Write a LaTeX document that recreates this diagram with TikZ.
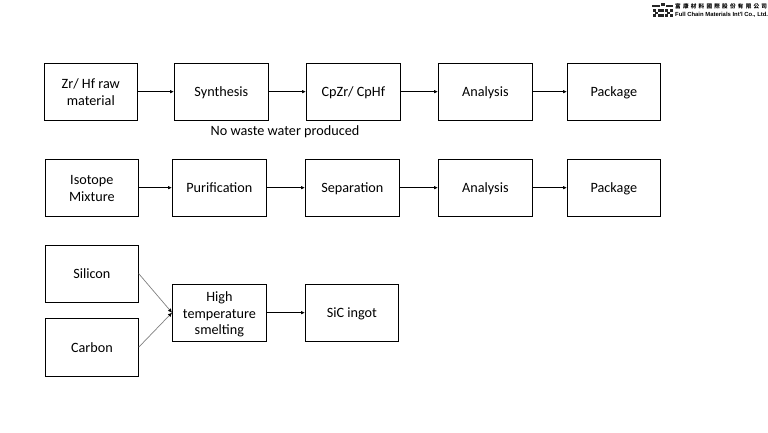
\documentclass[tikz,border=0pt]{standalone}
\usepackage{fontspec}
\usetikzlibrary{arrows.meta}
\setmainfont{Carlito}
\newfontfamily\cjk{Noto Sans CJK TC}[LetterSpace=40]
\newfontfamily\hv{Liberation Sans}
\newcommand{\topstrut}{\rule{0pt}{14.5pt}}
\begin{document}
\begin{tikzpicture}[x=1pt,y=-1pt,
  box/.style={draw=black,line width=0.75pt,inner sep=0pt,anchor=north west,align=center,font=\fontsize{14.2}{16.8}\selectfont,
    execute at begin node={\rule{0pt}{13.6pt}},execute at end node={\rule[-3.6pt]{0pt}{3.6pt}}},
  flow/.style={draw=black,line width=0.75pt,-{Latex[length=4pt,width=3.6pt]}},
  grayflow/.style={draw=black!50,line width=0.7pt,-{Latex[length=4pt,width=4pt,color=black]}},
  sq/.style={fill=black!85,draw=none}]
\useasboundingbox (0,0) rectangle (768,433);
\newcommand{\bx}[6]{\node[box,minimum width=#4 pt,minimum height=#5 pt] (#1) at (#2,#3) {#6};}
\bx{a1}{43.6}{63}{93.6}{56.6}{\topstrut Zr/ Hf raw\\material}
\bx{a2}{174}{63}{94}{56.6}{Synthesis}
\bx{a3}{306}{63}{94}{56.6}{CpZr/ CpHf}
\bx{a4}{438}{63}{94}{56.6}{Analysis}
\bx{a5}{567}{63}{93}{56.6}{Package}
\bx{b1}{45}{159}{93}{56.6}{\topstrut Isotope\\Mixture}
\bx{b2}{172}{159}{94}{56.6}{Purification}
\bx{b3}{305}{159}{94}{56.6}{Separation}
\bx{b4}{438}{159}{94}{56.6}{Analysis}
\bx{b5}{567}{159}{93}{56.6}{Package}
\bx{c1}{45}{245}{93}{56.6}{Silicon}
\bx{c2}{45}{318}{93}{57.6}{Carbon}
\bx{c3}{172}{284}{94}{56.6}{\topstrut High\\temperature\\smelting}
\bx{c4}{305}{284}{93}{56.6}{SiC ingot}
\node[font=\fontsize{14.2}{17}\selectfont] (note) at (285,132) {No waste water produced};
\foreach \p/\q in {a1/a2,a2/a3,a3/a4,a4/a5,b1/b2,b2/b3,b3/b4,b4/b5,c3/c4}
  \draw[flow] (\p) -- (\q);
\draw[grayflow] (c1.east) -- (c3.west);
\draw[grayflow] (c2.east) -- (c3.west);
% logo
\foreach \x/\y/\w/\h in {652/5/8/2.5,660.5/3/4.5/3,666/5/7/2.5,
 653/9.5/3/3,657.5/9.5/3/3,653/14/3/3,657.5/14/3/3,655/12/3/2.5,
 665/9.5/3/3,669.5/9.5/3/3,665/14/3/3,669.5/14/3/3,661/9/2.5/3,661/14/2.5/3,667/12/3/2.5}
  \fill[sq] (\x,\y) rectangle ++(\w,\h);
\node[anchor=west,inner sep=0pt,font=\cjk\fontsize{5.6}{6}\selectfont\bfseries] (logo1) at (675,6.8) {富康材料國際股份有限公司};
\node[anchor=west,inner sep=0pt,font=\hv\fontsize{5.9}{6}\selectfont\bfseries] (logo2) at (675,15) {Full Chain Materials Int'l Co., Ltd.};
\end{tikzpicture}
\end{document}
